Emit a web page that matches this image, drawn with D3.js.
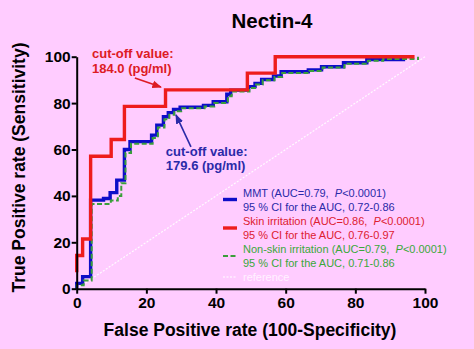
<!DOCTYPE html>
<html>
<head>
<meta charset="utf-8">
<script src="https://cdn.jsdelivr.net/npm/d3@7"></script>
<style>
  body { margin: 0; background: #ffccff; }
  svg { display: block; font-family: Arial, "Liberation Sans", sans-serif; }
  .legend text { white-space: pre; }
</style>
</head>
<body>
<div id="chart"></div>
<script>
// ROC curves for Nectin-4: each point is (fpr, tpr) where the curve steps up

var ticks = [0, 20, 40, 60, 80, 100];

var mmtFpr = [0, 0, 1.7, 4, 7.7, 9.6, 11.5, 13.7, 15.3, 21.5, 23, 24.9, 26.3, 27.8, 29.7, 36.4, 39.2, 43.1, 44.2, 49.3, 51.2, 53.1, 56.5, 58.7, 66.5, 70.3, 76.6, 83.3, 94.3];
var mmtTpr = [0, 2.3, 5.2, 38.2, 38.9, 41.4, 46.8, 60, 63.4, 66.2, 70.5, 74.1, 75.9, 77.3, 78.2, 79, 80.6, 83.8, 85.6, 87.1, 88.5, 90.2, 91.7, 93.5, 94.3, 95.7, 97.4, 98.8, 98.8];

var skinFpr = [0, 0, 1.7, 4, 9.9, 13.7, 25.5, 49, 57, 97];
var skinTpr = [7.1, 14.3, 21.4, 57.1, 64.3, 78.6, 85.7, 92.9, 100, 100];

var nonSkinFpr = [0, 0, 2, 4.3, 9.8, 11.8, 12.8, 14, 15.6, 21.8, 23.3, 25.2, 26.6, 28, 30, 36.7, 39.5, 43.4, 44.5, 49.6, 51.5, 53.4, 56.8, 59, 66.8, 70.6, 76.9, 83.6, 88, 98];
var nonSkinTpr = [0, 1.5, 3.5, 36.5, 38, 40, 45.5, 58.5, 62.5, 65, 69.5, 73, 75, 76.5, 77.8, 78.5, 80, 83, 85, 86.5, 88, 89.8, 91.2, 93, 93.8, 95.3, 97, 98.3, 99, 100];

var refFpr = [0, 100];
var refTpr = [0, 100];

var legendLabels = [
    ["MMT (AUC=0.79,  ", "P", "<0.0001)", "95 % CI for the AUC, 0.72-0.86"],
    ["Skin irritation (AUC=0.86,  ", "P", "<0.0001)", "95 % CI for the AUC, 0.76-0.97"],
    ["Non-skin irritation (AUC=0.79,  ", "P", "<0.0001)", "95 % CI for the AUC, 0.71-0.86"],
    ["reference", "", "", ""]
];

// cut-off annotations: text anchor and arrow in data units
var cutoffs = [
    { lines: ["cut-off value:", "184.0 (pg/ml)"], at: [4.4, 99.4], from: [16.7, 90.8], to: [24.2, 86.9], color: "#dd1b24" },
    { lines: ["cut-off value:", "179.6 (pg/ml)"], at: [25.6, 57.2], from: [32.8, 61.1], to: [28.5, 74.9], color: "#2a2aa8" }
];

var W = 474, H = 349;

var svg = d3.select("#chart").append("svg")
    .attr("width", W)
    .attr("height", H);

svg.append("rect").attr("width", W).attr("height", H).attr("fill", "#ffccff");

var x = d3.scaleLinear().domain([0, 100]).range([76.7, 425]);
var y = d3.scaleLinear().domain([0, 100]).range([288.7, 56.7]);

var zip = function(xs, ys) { return xs.map(function(v, i) { return [v, ys[i]]; }); };

var stepLine = d3.line()
    .x(function(d) { return x(d[0]); })
    .y(function(d) { return y(d[1]); })
    .curve(d3.curveStepAfter);

// reference diagonal
svg.append("path")
    .attr("d", d3.line().x(function(d) { return x(d[0]); }).y(function(d) { return y(d[1]); })(zip(refFpr, refTpr)))
    .attr("fill", "none")
    .attr("stroke", "#ffffff")
    .attr("stroke-width", 1.2)
    .attr("stroke-dasharray", "2,1.5")
    .attr("opacity", 0.9);

var series = [
    { pts: zip(mmtFpr, mmtTpr), color: "#0d0dc8", width: 3.4, dash: null },
    { pts: zip(nonSkinFpr, nonSkinTpr), color: "#3a9e3a", width: 2, dash: "5,2.5" },
    { pts: zip(skinFpr, skinTpr), color: "#ee1c1c", width: 3.4, dash: null }
];

series.forEach(function(s) {
    svg.append("path")
        .attr("d", stepLine(s.pts))
        .attr("fill", "none")
        .attr("stroke", s.color)
        .attr("stroke-width", s.width)
        .attr("stroke-dasharray", s.dash);
});

// axes
var yAxis = svg.append("g")
    .attr("transform", "translate(" + x(0) + ",0)")
    .call(d3.axisLeft(y).tickValues(ticks).tickSize(5).tickSizeOuter(0).tickPadding(1));
var xAxis = svg.append("g")
    .attr("transform", "translate(0," + y(0) + ")")
    .call(d3.axisBottom(x).tickValues(ticks).tickSize(5).tickSizeOuter(0).tickPadding(3));

[xAxis, yAxis].forEach(function(a) {
    a.select(".domain").attr("stroke", "#000").attr("stroke-width", 2);
    a.selectAll(".tick line").attr("stroke", "#000").attr("stroke-width", 2);
    a.selectAll(".tick text")
        .attr("fill", "#000")
        .style("font-size", "15.5px")
        .style("font-weight", "bold");
});

// titles
svg.append("text")
    .attr("x", 272).attr("y", 28)
    .attr("text-anchor", "middle")
    .style("font-size", "20.5px").style("font-weight", "bold")
    .text("Nectin-4");

svg.append("text")
    .attr("x", 250).attr("y", 336)
    .attr("text-anchor", "middle")
    .style("font-size", "17.5px").style("font-weight", "bold")
    .text("False Positive rate (100-Specificity)");

svg.append("text")
    .attr("transform", "translate(25,167.5) rotate(-90)")
    .attr("text-anchor", "middle")
    .style("font-size", "17.5px").style("font-weight", "bold")
    .text("True Positive rate (Sensitivity)");

// cut-off annotations with arrows
var defs = svg.append("defs");
cutoffs.forEach(function(c, i) {
    defs.append("marker")
        .attr("id", "arrow" + i)
        .attr("viewBox", "0 0 10 10")
        .attr("refX", 9).attr("refY", 5)
        .attr("markerWidth", 6).attr("markerHeight", 6)
        .attr("orient", "auto")
      .append("path")
        .attr("d", "M0,1 L10,5 L0,9 z")
        .attr("fill", c.color);

    svg.append("line")
        .attr("x1", x(c.from[0])).attr("y1", y(c.from[1]))
        .attr("x2", x(c.to[0])).attr("y2", y(c.to[1]))
        .attr("stroke", c.color)
        .attr("stroke-width", 1.6)
        .attr("marker-end", "url(#arrow" + i + ")");

    c.lines.forEach(function(t, j) {
        svg.append("text")
            .attr("x", x(c.at[0])).attr("y", y(c.at[1]) + j * 14.5)
            .attr("fill", c.color)
            .style("font-size", "13px").style("font-weight", "bold")
            .text(t);
    });
});

// legend
var legendColors = ["#2a2aa8", "#dd2030", "#3aa83a", "#ffffff"];
var swatch = [
    { color: "#0d0dc8", width: 3.4, dash: null, y: 199.5 },
    { color: "#ee1c1c", width: 3.4, dash: null, y: 228 },
    { color: "#3a9e3a", width: 2, dash: "5,2.5", y: 256 },
    { color: "#ffffff", width: 1.2, dash: "2,1.5", y: 277 }
];
var rowBase = [[197, 210.5], [225, 238.5], [253, 266.5], [281, 0]];

var legend = svg.append("g").attr("class", "legend");
legendLabels.forEach(function(lab, i) {
    var s = swatch[i];
    legend.append("line")
        .attr("x1", 223).attr("x2", 237)
        .attr("y1", s.y).attr("y2", s.y)
        .attr("stroke", s.color)
        .attr("stroke-width", s.width)
        .attr("stroke-dasharray", s.dash);

    var t = legend.append("text")
        .attr("x", 243).attr("y", rowBase[i][0])
        .attr("fill", legendColors[i])
        .attr("opacity", i === 3 ? 0.75 : 1)
        .style("font-size", "11px");
    t.append("tspan").text(lab[0]);
    if (lab[1]) t.append("tspan").style("font-style", "italic").text(lab[1]);
    if (lab[2]) t.append("tspan").text(lab[2]);

    if (lab[3]) {
        legend.append("text")
            .attr("x", 243).attr("y", rowBase[i][1])
            .attr("fill", legendColors[i])
            .style("font-size", "11px")
            .text(lab[3]);
    }
});
</script>
</body>
</html>
